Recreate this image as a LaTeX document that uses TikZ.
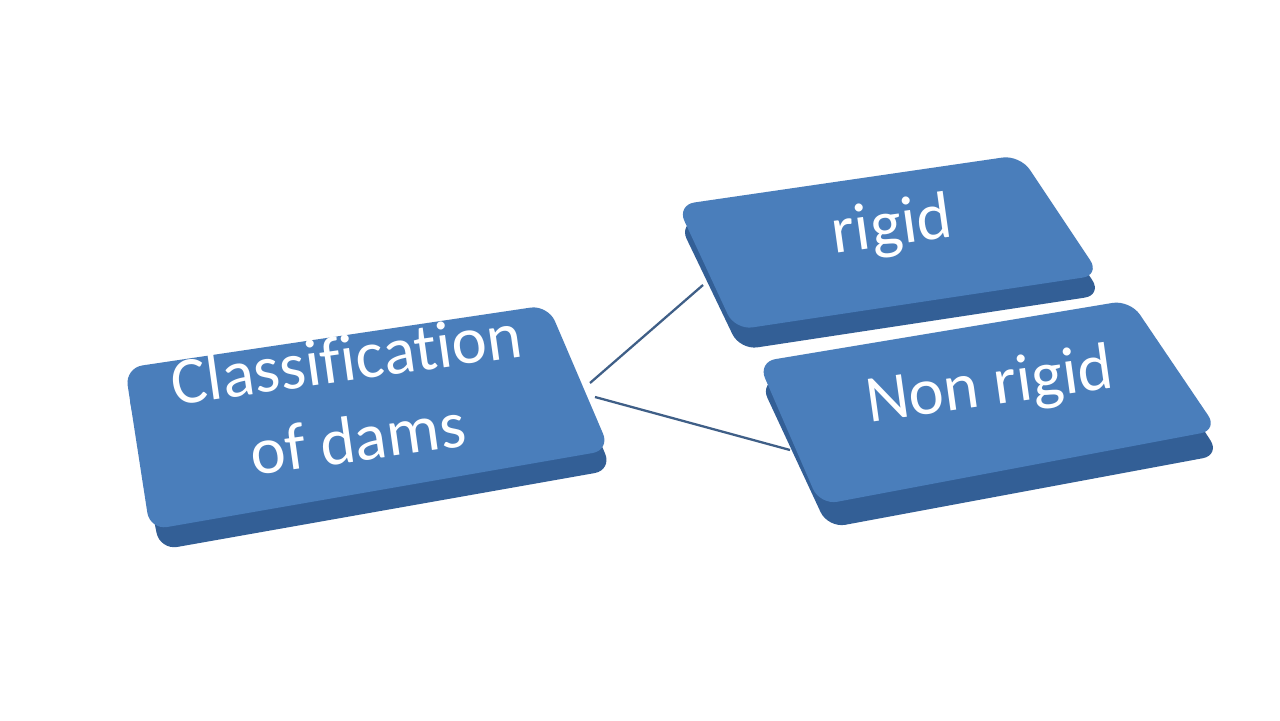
\documentclass[tikz,border=0pt]{standalone}
\usepackage{fontspec}
\setmainfont[Ligatures=NoCommon]{Carlito}
\begin{document}
\begin{tikzpicture}[x=0.02cm,y=-0.02cm,
  face/.style={fill=topblue,rounded corners=10},
  side/.style={fill=sideblue,rounded corners=10},
  lbl/.style={text=white,font=\fontsize{38}{46}\selectfont,align=center,rotate=8}]
\definecolor{topblue}{HTML}{4A7EBB}
\definecolor{sideblue}{HTML}{335F96}
\definecolor{linec}{HTML}{3F5F87}
\useasboundingbox (0,0) rectangle (1280,720);
\fill[white] (0,0) rectangle (1280,720);
% box 1
\fill[side] (127,386) -- (550,323) -- (612,470) -- (160,550) -- cycle;
\fill[face] (125,368) -- (548,305) -- (610,450) -- (150,530) -- cycle;
% box rigid
\fill[side] (679,223) -- (1022,173) -- (1102,295) -- (740,350) -- cycle;
\fill[face] (677,205) -- (1020,155) -- (1100,275) -- (735,330) -- cycle;
% box non rigid
\fill[side] (760,382) -- (1132,320) -- (1220,455) -- (828,528) -- cycle;
\fill[face] (758,362) -- (1130,300) -- (1218,430) -- (820,505) -- cycle;
\node[lbl] (cls) at (352,398) {Classification\\of dams};
\node[lbl] (rig) at (892,228) {rigid};
\node[lbl] (non) at (990,388) {Non rigid};
\coordinate (a1) at (590,383);
\coordinate (a2) at (595,397);
\coordinate (b1) at (703,285);
\coordinate (b2) at (790,450);
\draw[linec,line width=1.3pt] (a1) -- (b1);
\draw[linec,line width=1.3pt] (a2) -- (b2);
\end{tikzpicture}
\end{document}
